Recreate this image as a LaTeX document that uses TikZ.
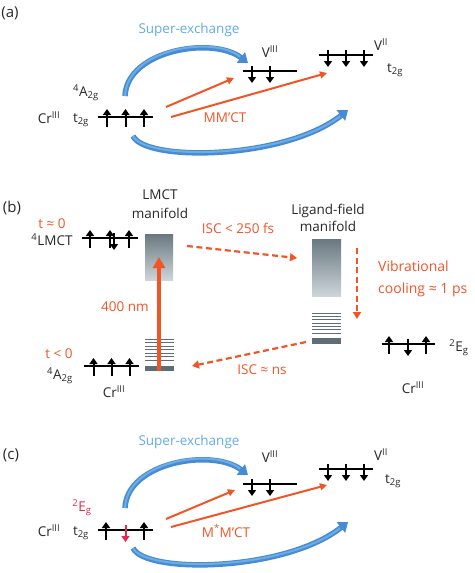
\documentclass[tikz,border=0pt]{standalone}
\usepackage{fontspec}
\setmainfont{Open Sans}
\usetikzlibrary{arrows.meta}
\definecolor{txt}{RGB}{40,40,40}
\definecolor{orng}{RGB}{240,85,40}
\definecolor{sxtext}{RGB}{100,172,230}
\definecolor{sxblue}{RGB}{70,140,210}
\definecolor{sxlight}{RGB}{110,172,230}
\definecolor{pinkred}{RGB}{228,40,80}
\definecolor{mtop}{RGB}{105,120,128}
\definecolor{mbot}{RGB}{205,213,217}
\definecolor{mline}{RGB}{95,110,118}
\tikzset{
  lbl/.style={text=txt, inner sep=0pt},
  rlbl/.style={text=orng, inner sep=0pt},
  orb/.pic={\draw[line width=2pt] (-9.3,0) -- (9.3,0);},
  spinup/.pic={\draw[line width=2pt, -{Triangle[length=6pt,width=8pt]}] (0,9.5) -- (0,-8);},
  spindn/.pic={\draw[line width=2pt, -{Triangle[length=6pt,width=8pt]}] (0,-5) -- (0,12);},
  spindnred/.pic={\draw[line width=2pt, pinkred, -{Triangle[length=6pt,width=8pt]}] (0,-5) -- (0,12);},
  sxarrow/.style={line width=5.5pt, draw=sxblue, -{Triangle[length=9pt,width=13pt]}},
  sxhi/.style={line width=2pt, draw=sxlight, shorten >=10pt, yshift=1.2pt},
  ctarrow/.style={line width=2pt, draw=orng, -{Triangle[length=7pt,width=7pt]}},
  dasharrow/.style={line width=2.2pt, draw=orng, dash pattern=on 6pt off 3.5pt, -{Triangle[length=7pt,width=8pt]}},
  pumparrow/.style={line width=4pt, draw=orng, -{Triangle[length=11pt,width=12pt]}},
  manbox/.style={top color=mtop, bottom color=mbot, draw=none},
  vibline/.style={line width=1pt, draw=mline},
}
\begin{document}
\begin{tikzpicture}[x=1pt,y=-1pt, font=\fontsize{13.5}{16}\selectfont]
\useasboundingbox (0,0) rectangle (474,573);
\fill[white] (0,0) rectangle (474,573);

% ================= (a) =================
\node[lbl, font=\fontsize{15}{17}\selectfont] (pa) at (10,13) {(a)};
\node[lbl, text=sxtext] (sxa) at (189,30) {Super-exchange};
\node[lbl] (v3a) at (270,52) {V\textsuperscript{III}};
\node[lbl] (v2a) at (381,45) {V\textsuperscript{II}};
\node[lbl] (t2gva) at (395,70) {t\textsubscript{2g}};
\node[lbl] (a2ga) at (86,93) {\textsuperscript{4}A\textsubscript{2g}};
\node[lbl] (cra) at (49,118) {Cr\textsuperscript{III}};
\node[lbl] (t2gca) at (81,120) {t\textsubscript{2g}};
\node[rlbl] (mmcta) at (225,118) {MM’CT};

\foreach \x in {107,125.5,144} {\pic at (\x,117) {orb}; \pic at (\x,117) {spinup};}
\foreach \x in {252,270,288} {\pic at (\x,71) {orb};}
\foreach \x in {252,270} {\pic at (\x,71) {spindn};}
\foreach \x in {328,346,364} {\pic at (\x,55) {orb}; \pic at (\x,55) {spindn};}

\coordinate (a1s) at (166,107); \coordinate (a1e) at (234,78);
\coordinate (a2s) at (171,117); \coordinate (a2e) at (327,73);
\draw[ctarrow] (a1s) -- (a1e);
\draw[ctarrow] (a2s) -- (a2e);

\coordinate (sa1s) at (125,96); \coordinate (sa1e) at (248,63);
\coordinate (sa2s) at (133,136); \coordinate (sa2e) at (348,110);
\draw[sxarrow] (sa1s) .. controls (127,50) and (213,36) .. (sa1e);
\draw[sxhi] (sa1s) .. controls (127,50) and (213,36) .. (sa1e);
\draw[sxarrow] (sa2s) .. controls (145,162) and (285,160) .. (sa2e);
\draw[sxhi] (sa2s) .. controls (145,162) and (285,160) .. (sa2e);

% ================= (b) =================
\node[lbl, font=\fontsize{15}{17}\selectfont] (pb) at (12,208) {(b)};
\node[lbl, align=center, font=\fontsize{13.5}{19}\selectfont] (lmctman) at (160,204) {LMCT\\manifold};
\node[lbl, align=center, font=\fontsize{13.5}{17}\selectfont] (lfman) at (328,218) {Ligand-field\\manifold};
\node[rlbl] (t0) at (52,224) {t ≈ 0};
\node[lbl] (lmct) at (52,240) {\textsuperscript{4}LMCT};
\node[rlbl] (isc1) at (238,228) {ISC < 250 fs};
\node[rlbl, anchor=west, align=left, font=\fontsize{14}{22}\selectfont] (vib) at (378,279) {Vibrational\\cooling ≈ 1 ps};
\node[rlbl] (nm) at (125,307) {400 nm};
\node[rlbl] (tlt) at (59,354) {t < 0};
\node[lbl] (a2gb) at (60,376) {\textsuperscript{4}A\textsubscript{2g}};
\node[lbl] (crb1) at (114,392) {Cr\textsuperscript{III}};
\node[lbl] (egb) at (459,348) {\textsuperscript{2}E\textsubscript{g}};
\node[lbl] (crb2) at (413,388) {Cr\textsuperscript{III}};
\node[rlbl] (isc2) at (262,370) {ISC ≈ ns};

% 4LMCT levels
\foreach \x in {91.5,110,128.5} {\pic at (\x,238) {orb};}
\pic at (90,238) {spinup};
\pic at (110,238) {spinup};
\pic at (114,238) {spindn};
\pic at (129,238) {spinup};
% 4A2g levels
\foreach \x in {93.5,111.5,129.5} {\pic at (\x,366) {orb}; \pic at (\x,366) {spinup};}
% 2Eg levels
\foreach \x in {391,408.5,426} {\pic at (\x,344) {orb};}
\pic at (389,344) {spinup};
\pic at (408,344) {spindn};
\pic at (426,344) {spinup};

% manifolds
\shade[manbox] (145,234) rectangle (173,280);
\foreach \y in {339,342.5,346,349.5,353,356.5,360} {\draw[vibline] (145,\y) -- (174,\y);}
\fill[mline] (145,365.5) rectangle (174,371);
\shade[manbox] (312,239) rectangle (341,296);
\foreach \y in {313,316.3,319.6,323,326.3,329.6,333} {\draw[vibline] (312,\y) -- (341,\y);}
\fill[mline] (312,338) rectangle (341,343.5);

\coordinate (pumps) at (159,371); \coordinate (pumpe) at (159,257);
\draw[pumparrow] (pumps) -- (pumpe);
\coordinate (i1s) at (187,246); \coordinate (i1e) at (297,258);
\draw[dasharrow] (i1s) -- (i1e);
\coordinate (vcs) at (357,248); \coordinate (vce) at (357,319);
\draw[dasharrow] (vcs) -- (vce);
\coordinate (i2s) at (306,342); \coordinate (i2e) at (192,366);
\draw[dasharrow] (i2s) -- (i2e);

% ================= (c) =================
\node[lbl, font=\fontsize{15}{17}\selectfont] (pc) at (11,455) {(c)};
\node[lbl, text=sxtext] (sxc) at (189,442) {Super-exchange};
\node[lbl] (v3c) at (270,457) {V\textsuperscript{III}};
\node[lbl] (v2c) at (381,455) {V\textsuperscript{II}};
\node[lbl] (t2gvc) at (393,481) {t\textsubscript{2g}};
\node[lbl, text=pinkred] (egc) at (82,508) {\textsuperscript{2}E\textsubscript{g}};
\node[lbl] (crc) at (49,531) {Cr\textsuperscript{III}};
\node[lbl] (t2gcc) at (81,533) {t\textsubscript{2g}};
\node[rlbl] (mmctc) at (226,531) {M\textsuperscript{*}M’CT};

\foreach \x in {107,125.5,144} {\pic at (\x,530) {orb};}
\pic at (106,530) {spinup};
\pic at (125.5,530) {spindnred};
\pic at (144,530) {spinup};
\foreach \x in {252,270,288} {\pic at (\x,484) {orb};}
\foreach \x in {252,270} {\pic at (\x,484) {spindn};}
\foreach \x in {328,346,364} {\pic at (\x,469) {orb}; \pic at (\x,469) {spindn};}

\coordinate (c1s) at (166,519); \coordinate (c1e) at (235,490);
\coordinate (c2s) at (171,527); \coordinate (c2e) at (327,485);
\draw[ctarrow] (c1s) -- (c1e);
\draw[ctarrow] (c2s) -- (c2e);

\coordinate (sc1s) at (125,508); \coordinate (sc1e) at (248,475);
\coordinate (sc2s) at (133,548); \coordinate (sc2e) at (348,522);
\draw[sxarrow] (sc1s) .. controls (127,462) and (213,448) .. (sc1e);
\draw[sxhi] (sc1s) .. controls (127,462) and (213,448) .. (sc1e);
\draw[sxarrow] (sc2s) .. controls (145,574) and (285,572) .. (sc2e);
\draw[sxhi] (sc2s) .. controls (145,574) and (285,572) .. (sc2e);
\end{tikzpicture}
\end{document}
